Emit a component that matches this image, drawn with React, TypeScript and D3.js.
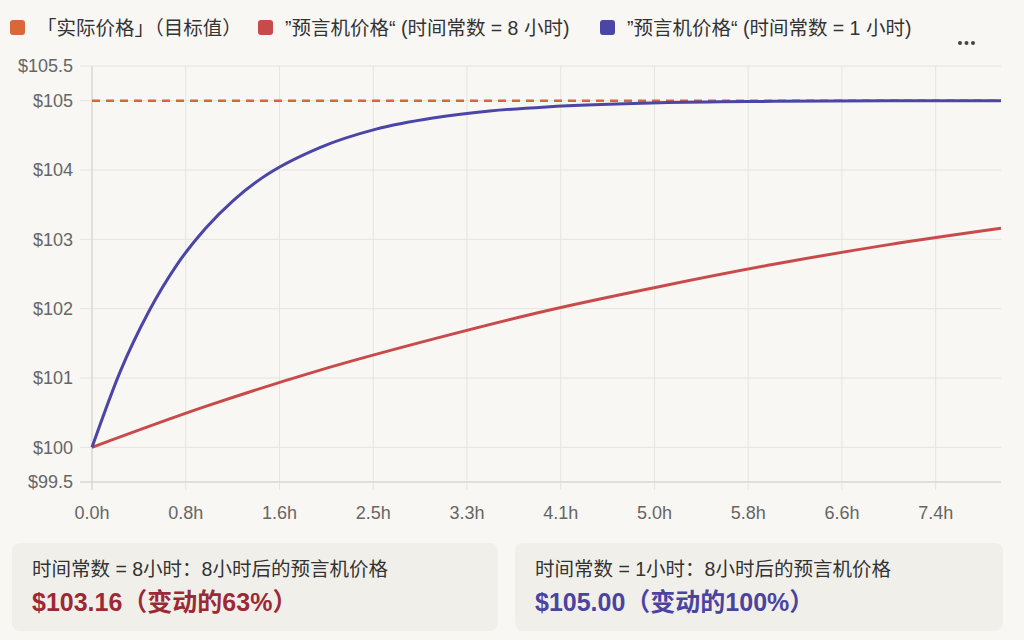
import React from 'react'
import * as d3 from 'd3'

const fastHours = [0, 0.25, 0.5, 0.75, 1, 1.25, 1.5, 2, 2.5, 3, 3.5, 4, 5, 6, 7, 8]
const fastPrices = [100, 101.1, 101.96, 102.64, 103.16, 103.57, 103.89, 104.32, 104.59, 104.75, 104.85, 104.91, 104.97, 104.99, 105, 105]

const slowHours = [0, 1, 2, 3, 4, 5, 6, 7, 8]
const slowPrices = [100, 100.59, 101.11, 101.56, 101.97, 102.32, 102.64, 102.92, 103.16]

const targetHours = [0, 8]
const targetPrices = [105, 105]

const yTicks = [99.5, 100, 101, 102, 103, 104, 105, 105.5]
const yTickLabels = ['$99.5', '$100', '$101', '$102', '$103', '$104', '$105', '$105.5']
const xTickLabels = ['0.0h', '0.8h', '1.6h', '2.5h', '3.3h', '4.1h', '5.0h', '5.8h', '6.6h', '7.4h']
const xTickStep = 0.825

const legendItems = [
  { label: '「实际价格」（目标值）', color: '#d9673a' },
  { label: '”预言机价格“ (时间常数 = 8 小时)', color: '#c94a4a' },
  { label: '”预言机价格“ (时间常数 = 1 小时)', color: '#4b45a8' },
]

const cards = [
  { title: '时间常数 = 8小时：8小时后的预言机价格', value: '$103.16（变动的63%）', color: '#9c2a36' },
  { title: '时间常数 = 1小时：8小时后的预言机价格', value: '$105.00（变动的100%）', color: '#4b449f' },
]

const FONT = '"Liberation Sans", "Noto Sans CJK SC", sans-serif'

export default function App() {
  const W = 1024
  const H = 640
  const margin = { left: 92, right: 23, top: 66, bottom: 158 }

  const x = d3.scaleLinear().domain([0, 8]).range([margin.left, W - margin.right])
  const y = d3.scaleLinear().domain([99.5, 105.5]).range([H - margin.bottom, margin.top])

  const line = d3.line<[number, number]>()
    .x(d => x(d[0]))
    .y(d => y(d[1]))
    .curve(d3.curveMonotoneX)

  const zip = (a: number[], b: number[]) => a.map((v, i) => [v, b[i]] as [number, number])

  const fast = line(zip(fastHours, fastPrices)) || ''
  const slow = line(zip(slowHours, slowPrices)) || ''
  const target = line(zip(targetHours, targetPrices)) || ''

  const xTicks = xTickLabels.map((l, i) => ({ label: l, v: i * xTickStep }))

  // legend layout, measured against the reference
  const legendX = [10, 258, 600]
  const cardX = [12, 515]
  const cardW = [486, 488]

  return (
    <div style={{ position: 'fixed', left: 0, top: 0, width: W, height: H, background: '#f8f7f3' }}>
      <svg width={W} height={H} style={{ display: 'block', fontFamily: FONT }}>
        <rect width={W} height={H} fill="#f8f7f3" />

        {/* legend */}
        {legendItems.map((it, i) => (
          <g key={i} transform={`translate(${legendX[i]},20)`}>
            <rect width={15} height={15} rx={3} fill={it.color} />
            <text x={27} y={15} fontSize={19.5} fill="#333">{it.label}</text>
          </g>
        ))}
        <g fill="#444">
          {[0, 1, 2].map(i => <circle key={i} cx={960 + i * 6.5} cy={43} r={2} />)}
        </g>

        {/* grid */}
        <g stroke="#e6e4df" strokeWidth={1}>
          {yTicks.map(t => (
            <line key={t} x1={margin.left - 12} x2={x(8)} y1={y(t)} y2={y(t)} />
          ))}
          {xTicks.map(t => (
            <line key={t.label} x1={x(t.v)} x2={x(t.v)} y1={y(105.5)} y2={y(99.5) + 8} />
          ))}
        </g>
        <line x1={x(0)} x2={x(0)} y1={y(105.5)} y2={y(99.5) + 8} stroke="#d3d1cc" />
        <line x1={x(0) - 12} x2={x(8)} y1={y(99.5)} y2={y(99.5)} stroke="#d3d1cc" />

        {/* axis labels */}
        {yTicks.map((t, i) => (
          <text key={t} x={73} y={y(t)} dy="0.35em" textAnchor="end" fontSize={18} fill="#666">
            {yTickLabels[i]}
          </text>
        ))}
        {xTicks.map(t => (
          <text key={t.label} x={x(t.v)} y={519} textAnchor="middle" fontSize={18} fill="#666">
            {t.label}
          </text>
        ))}

        {/* series */}
        <path d={target} fill="none" stroke="#d0693f" strokeWidth={2.5} strokeDasharray="8 6" />
        <path d={slow} fill="none" stroke={legendItems[1].color} strokeWidth={3} strokeLinejoin="round" />
        <path d={fast} fill="none" stroke={legendItems[2].color} strokeWidth={3} strokeLinejoin="round" />

        {/* summary cards */}
        {cards.map((c, i) => (
          <g key={i} transform={`translate(${cardX[i]},543)`}>
            <rect width={cardW[i]} height={88} rx={8} fill="#f1efea" />
            <text x={20} y={33} fontSize={19.5} fill="#333">{c.title}</text>
            <text x={20} y={68} fontSize={25} fontWeight={600} fill={c.color}>{c.value}</text>
          </g>
        ))}
      </svg>
    </div>
  )
}
